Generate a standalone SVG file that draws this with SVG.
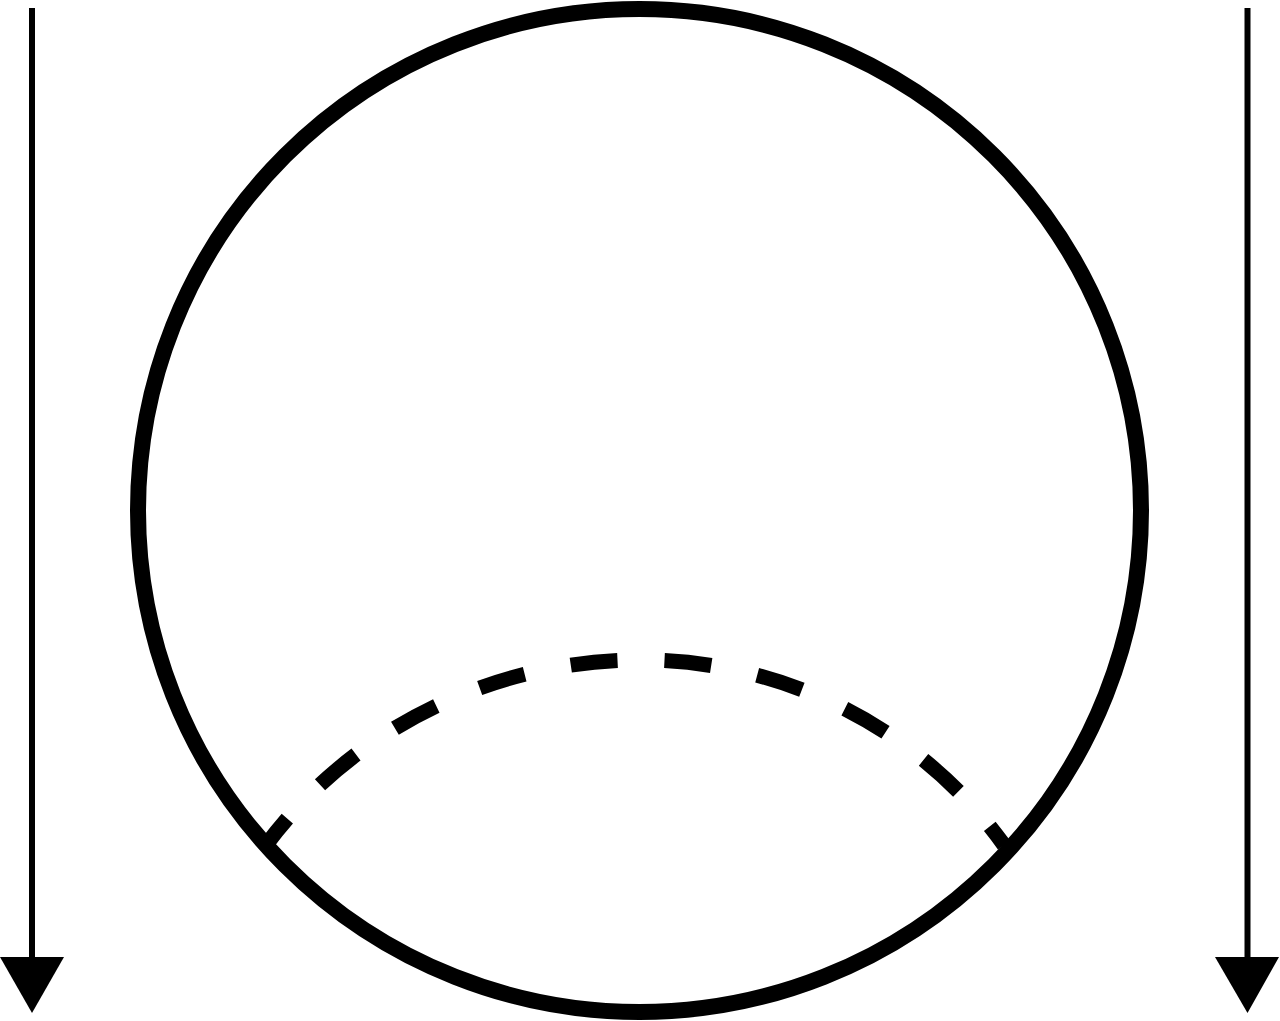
<svg xmlns="http://www.w3.org/2000/svg" width="1280" height="1021" viewBox="0 0 1280 1021">
<style>
.arrow{stroke:#000;stroke-width:6;fill:none}
.head{fill:#000;stroke:none}
.ring{stroke:#000;stroke-width:16;fill:none}
.dash{stroke:#000;stroke-width:15;fill:none;stroke-dasharray:47 47;stroke-dashoffset:70.5}
</style>
<rect width="1280" height="1021" fill="#fff"/>
<g id="sphere">
<circle class="ring" cx="639.5" cy="510.5" r="501.5"/>
</g>
<g id="dashed-arc">
<path class="dash" d="M641,660 A461,442.5 0 0 0 266,845"/>
<path class="dash" d="M641,660 A446,442.5 0 0 1 1004,845"/>
</g>
<g id="connectors">
<line class="arrow" x1="32" y1="8" x2="32" y2="960"/>
<polygon class="head" points="0,957 64,957 32,1013"/>
<line class="arrow" x1="1247.5" y1="8" x2="1247.5" y2="960"/>
<polygon class="head" points="1215,957 1279,957 1247.5,1013"/>
</g>
</svg>
